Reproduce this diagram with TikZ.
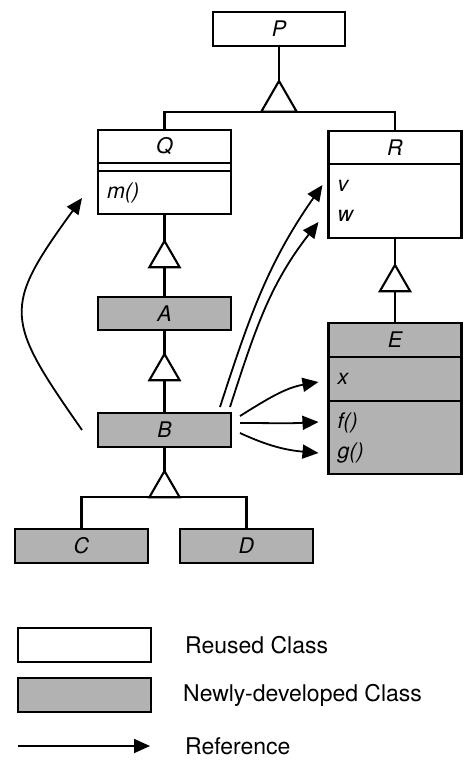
\documentclass[tikz,border=0pt]{standalone}
\usepackage{fontspec}
\setmainfont{TeX Gyre Heros}
\usetikzlibrary{shapes,shapes.geometric,arrows.meta,positioning}

\tikzset{
  cls/.style={draw, line width=2.1pt, minimum width=133pt, inner xsep=9pt,
    inner ysep=0pt, outer sep=0pt, font=\itshape\fontsize{21.5}{30}\selectfont},
  reused/.style={cls, fill=white},
  newdev/.style={cls, fill=black!30},
  members/.style={text width=115pt, align=left},
  inh/.style={draw, line width=2.1pt, fill=white, regular polygon,
    regular polygon sides=3, minimum size=35pt, inner sep=0pt, outer sep=0pt},
  inhline/.style={line width=2.1pt},
  refline/.style={line width=1.8pt},
  legtext/.style={font=\fontsize{23}{28}\selectfont, inner sep=0pt}
}

\begin{document}
\begin{tikzpicture}[%
x=1pt, y=1pt,
>={Triangle[length=16pt,width=14pt]}
]
\useasboundingbox (0,0) rectangle (474,-767);

% reused classes
\node[reused, minimum width=132pt, minimum height=34pt] (P) at (279,-29) {P};
\node[inh, minimum size=41pt, anchor=north] (Pt) at (279,-81) {};
\node[reused, minimum height=33pt] (Q) at (164.5,-146.5) {Q};
\node[reused, minimum height=8pt, below=0pt of Q] (Qa) {};
\node[reused, members, minimum height=43pt, below=0pt of Qa] (Qm) {m()};
\node[reused, minimum height=33pt] (R) at (395,-147.5) {R};
\node[reused, members, minimum height=74pt, below=0pt of R] (Rv) {v\\w};

% newly developed classes
\node[inh, anchor=north] (Qt) at (164.5,-241) {};
\node[newdev, minimum height=33pt] (A) at (164.5,-313.5) {A};
\node[inh, anchor=north] (At) at (164.5,-354) {};
\node[newdev, minimum height=34pt] (B) at (164.5,-430) {B};
\node[inh, anchor=north] (Bt) at (164.5,-471) {};
\node[newdev, minimum height=34pt] (C) at (81.5,-546) {C};
\node[newdev, minimum height=34pt] (D) at (246.5,-546) {D};
\node[inh, anchor=north] (Rt) at (395,-265) {};
\node[newdev, minimum height=34pt] (E) at (395,-340) {E};
\node[newdev, members, minimum height=44pt, below=0pt of E] (Ex) {x};
\node[newdev, members, minimum height=73pt, below=0pt of Ex] (Ef) {f()\\g()};

% inheritance
\draw[inhline] (P) -- (Pt);
\draw[inhline] (Pt.south) -| (Q);
\draw[inhline] (Pt.south) -| (R);
\draw[inhline] (Qm) -- (Qt);
\draw[inhline] (Qt.south) -- (A);
\draw[inhline] (A) -- (At);
\draw[inhline] (At.south) -- (B);
\draw[inhline] (B) -- (Bt);
\draw[inhline] (Bt.south) -| (C);
\draw[inhline] (Bt.south) -| (D);
\draw[inhline] (Rv) -- (Rt);
\draw[inhline] (Rt.south) -- (E);

% references from B
\path[->, refline] ([xshift=-16pt] B.west) edge [out=125, in=234, looseness=1.5]
         ([xshift=-16pt, yshift=-5.5pt] Qm.west);
\path[->, refline] ([xshift=-11pt, yshift=6pt] B.north east) edge [out=72, in=235]
         ([xshift=-6pt, yshift=16pt] Rv.west);
\path[->, refline] ([xshift=-1pt, yshift=6pt] B.north east) edge [out=72, in=232]
         ([xshift=-10pt, yshift=-21pt] Rv.west);
\path[->, refline] ([xshift=9pt, yshift=14pt] B.east) edge [out=32, in=190]
         ([xshift=-10pt, yshift=-3pt] Ex.west);
\path[->, refline] ([xshift=9pt, yshift=7pt] B.east) edge [out=0, in=183]
         ([xshift=-10pt, yshift=15.5pt] Ef.west);
\path[->, refline] ([xshift=9pt, yshift=-3pt] B.east) edge [out=-25, in=175]
         ([xshift=-10pt, yshift=-15.5pt] Ef.west);

% legend
\node[reused, minimum height=34pt] (reusedkey) at (84.5,-645) {};
\node[legtext, right=34pt of reusedkey] (reusedtxt) {Reused Class};
\node[newdev, minimum height=34pt] (newkey) at (84.5,-695) {};
\node[legtext, right=32pt of newkey] (newtxt) {Newly-developed Class};
\coordinate (refstart) at (18,-746);
\coordinate (refend) at (150,-746);
\draw[->, refline] (refstart) -- (refend);
\node[legtext, right=35pt of refend] (reftxt) {Reference};

\end{tikzpicture}
\end{document}
